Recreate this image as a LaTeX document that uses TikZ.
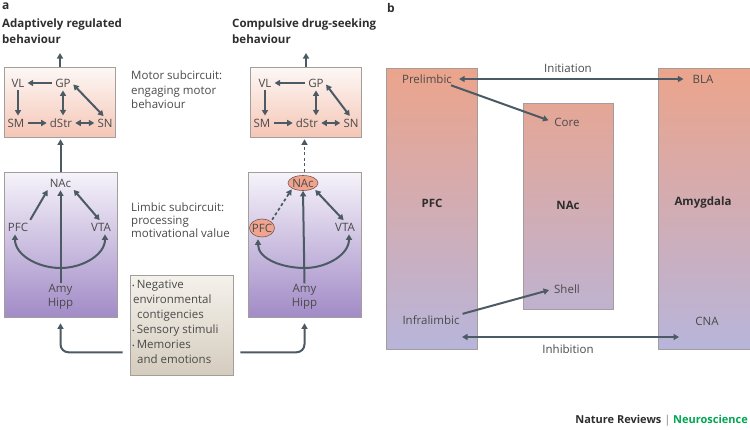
\documentclass[tikz,border=0pt]{standalone}
\usepackage{fontspec}
\setmainfont{Open Sans}
\usepackage{xcolor}
\usetikzlibrary{arrows.meta, shapes.geometric, calc}

\definecolor{arrowgray}{HTML}{4B5A63}
\definecolor{txtgray}{HTML}{4A4A4A}
\definecolor{titlegray}{HTML}{2E2E2E}
\definecolor{boxline}{HTML}{A39D9B}
\definecolor{motortop}{HTML}{FDF8F6}
\definecolor{motorbot}{HTML}{F5C6B6}
\definecolor{limbtop}{HTML}{F6F3FA}
\definecolor{limbbot}{HTML}{A28BC7}
\definecolor{cuetop}{HTML}{F5F2EC}
\definecolor{cuebot}{HTML}{D5CCBE}
\definecolor{bsalmon}{HTML}{ECA48B}
\definecolor{blav}{HTML}{B8B5DB}
\definecolor{hilite}{HTML}{F0A48D}
\definecolor{hiline}{HTML}{7A5650}
\definecolor{nrgreen}{HTML}{00A651}

\begin{document}
\begin{tikzpicture}[x=1pt,y=-1pt,
  lbl/.style={inner sep=1pt, text=txtgray, font=\fontsize{11.5}{14}\selectfont},
  bold/.style={lbl, text=titlegray, font=\bfseries\fontsize{11.5}{14}\selectfont},
  arr/.style={draw=arrowgray, line width=2pt, shorten <=2pt, shorten >=2pt, -{Triangle[length=5.5pt,width=6pt]}},
  darr/.style={arr, {Triangle[length=5.5pt,width=6pt]}-{Triangle[length=5.5pt,width=6pt]}},
  dasharr/.style={arr, line width=1.7pt, dash pattern=on 3pt off 2.5pt},
  motorbox/.style={draw=boxline, line width=0.6pt, top color=motortop, bottom color=motorbot, minimum width=111pt, minimum height=70pt},
  limbbox/.style={draw=boxline, line width=0.6pt, top color=limbtop, bottom color=limbbot, minimum width=113pt, minimum height=145pt},
  hot/.style={lbl, ellipse, draw=hiline, line width=0.6pt, fill=hilite, inner sep=-1.5pt}]
\useasboundingbox (0,0) rectangle (750,429);

\node[bold, anchor=north west, font=\bfseries\fontsize{12}{13}\selectfont] (labA) at (1,2) {a};
\node[bold, anchor=north west, align=left, font=\bfseries\fontsize{11.5}{16}\selectfont] (titleL) at (1,18) {Adaptively regulated\\behaviour};
\node[bold, anchor=north west, align=left, font=\bfseries\fontsize{11.5}{16}\selectfont] (titleR) at (231,18) {Compulsive drug-seeking\\behaviour};

\node[motorbox] (motL) at (60,102) {};
\node[motorbox] (motR) at (306,102) {};
\node[limbbox] (limL) at (60.5,244.5) {};
\node[limbbox] (limR) at (304.5,244.5) {};
\node[draw=boxline, line width=0.6pt, top color=cuetop, bottom color=cuebot, minimum width=103pt, minimum height=100pt] (cues) at (181.5,325) {};

\coordinate (outL) at (60,51);
\coordinate (outR) at (306,51);
\draw[arr, shorten <=0pt] (motL.north) -- (outL);
\draw[arr, shorten <=0pt] (motR.north) -- (outR);
\draw[arr, shorten <=0pt] (limL.north) -- (limL.north |- motL.south);
\draw[dasharr, shorten <=0pt] (limR.north) -- (limR.north |- motR.south);

\node[lbl] (VLL) at (18,83) {VL};
\node[lbl] (GPL) at (63,83) {GP};
\node[lbl] (SML) at (16,123) {SM};
\node[lbl] (dStrL) at (61,123) {dStr};
\node[lbl] (SNL) at (105,123) {SN};
\draw[arr] (GPL) -- (VLL);
\draw[arr] (VLL) -- (VLL |- SML.north);
\draw[arr] (SML) -- (dStrL);
\draw[darr] (GPL) -- (GPL |- dStrL.north);
\draw[darr] (dStrL) -- (SNL);
\draw[darr] (GPL.east) -- (SNL.north);

\node[lbl] (VLR) at (265,83) {VL};
\node[lbl] (GPR) at (316,83) {GP};
\node[lbl] (SMR) at (262,123) {SM};
\node[lbl] (dStrR) at (307,123) {dStr};
\node[lbl] (SNR) at (351,123) {SN};
\draw[arr] (GPR) -- (VLR);
\draw[arr] (VLR) -- (VLR |- SMR.north);
\draw[arr] (SMR) -- (dStrR);
\draw[darr] (GPR) -- (GPR |- dStrR.north);
\draw[darr] (dStrR) -- (SNR);
\draw[darr] (GPR.east) -- (SNR.north);

\node[lbl, anchor=north west, align=left, font=\fontsize{11.5}{14.5}\selectfont] (motTxt) at (130,70) {Motor subcircuit:\\engaging motor\\behaviour};
\node[lbl, anchor=north west, align=left, font=\fontsize{11.5}{13}\selectfont] (limTxt) at (130,202) {Limbic subcircuit:\\processing\\motivational value};

\node[lbl] (NAcL) at (60.5,183) {NAc};
\node[lbl] (PFCL) at (18,227) {PFC};
\node[lbl] (VTAL) at (101,227) {VTA};
\node[lbl, align=center] (AmyL) at (60.5,297) {Amy\\Hipp};
\coordinate (forkL) at (60.5,268);
\draw[arr, shorten <=0pt] (forkL) to[out=180,in=-90] ([xshift=-3pt]PFCL.south);
\draw[arr, shorten <=0pt] (forkL) to[out=0,in=-90] ([xshift=4pt]VTAL.south);
\draw[arr, shorten <=0pt] (AmyL.north) -- (NAcL.south);
\draw[arr] (PFCL.north east) -- (NAcL.south west);
\draw[darr] (NAcL.south east) -- (VTAL.north);

\node[hot, minimum width=30pt, minimum height=15pt] (NAcR) at (303,183) {NAc};
\node[hot, minimum width=25pt, minimum height=18pt] (PFCR) at (262,228) {PFC};
\node[lbl] (VTAR) at (345,227) {VTA};
\node[lbl, align=center] (AmyR) at (304.5,297) {Amy\\Hipp};
\coordinate (forkR) at (304.5,268);
\draw[arr, shorten <=0pt] (forkR) to[out=180,in=-90] ([xshift=-4pt]PFCR.south);
\draw[arr, shorten <=0pt] (forkR) to[out=0,in=-90] ([xshift=4pt]VTAR.south);
\draw[arr, shorten <=0pt, shorten >=0pt] (AmyR.north) -- (NAcR.south);
\draw[dasharr, shorten >=1pt] (PFCR.north east) -- (NAcR.south west);
\draw[darr] (NAcR.south east) -- (VTAR.north);

\node[lbl, anchor=north west, align=left, text=txtgray, font=\fontsize{11.5}{15}\selectfont] (cueTxt) at (131,279)
  {{\scriptsize\textbullet}\,Negative\\
   \hspace*{1pt}environmental\\
   \hspace*{5pt}contigencies\\
   {\scriptsize\textbullet}\,Sensory stimuli\\
   {\scriptsize\textbullet}\,Memories\\
   \hspace*{5pt}and emotions};
\draw[arr, rounded corners=8pt, shorten >=6pt] ($(cues.south west)+(-5,-23)$) -| (limL.south);
\draw[arr, rounded corners=8pt, shorten >=6pt] ($(cues.south east)+(5,-23)$) -| (limR.south);

\node[bold, anchor=north west, font=\bfseries\fontsize{12}{13}\selectfont] (labB) at (386,2) {b};
\node[draw=boxline, line width=0.6pt, top color=bsalmon, bottom color=blav, minimum width=91pt, minimum height=281pt] (pfcB) at (431.5,208.5) {};
\node[draw=boxline, line width=0.6pt, top color=bsalmon!87!blav, bottom color=bsalmon!14!blav, minimum width=90pt, minimum height=206pt] (nacB) at (568,206) {};
\node[draw=boxline, line width=0.6pt, top color=bsalmon, bottom color=blav, minimum width=92pt, minimum height=281pt] (amyB) at (704.5,208.5) {};

\node[lbl] (preB) at (427,79) {Prelimbic};
\node[lbl] (blaB) at (703,79) {BLA};
\node[lbl] (initB) at (568,68) {Initiation};
\node[lbl] (coreB) at (567,122) {Core};
\node[bold] (pfcT) at (432,203) {PFC};
\node[bold] (nacT) at (568,205) {NAc};
\node[bold] (amyT) at (703,203) {Amygdala};
\node[lbl] (shellB) at (567,289) {Shell};
\node[lbl] (infB) at (431,320) {Infralimbic};
\node[lbl] (cnaB) at (707,321) {CNA};
\node[lbl] (inhB) at (568,349) {Inhibition};
\coordinate (inhL) at (462,337);
\coordinate (inhR) at (679,337);

\draw[darr, shorten <=6pt, shorten >=8pt] (preB.east) -- (blaB.west);
\draw[arr, shorten <=2pt, shorten >=5pt] ([xshift=-4pt]preB.south east) -- (coreB.west);
\draw[arr, shorten >=4pt] (infB.north east) -- (shellB.west);
\draw[darr, shorten <=0pt, shorten >=0pt] (inhL) -- (inhR);

\node[anchor=east, inner sep=1pt, text=titlegray, font=\bfseries\fontsize{11}{12}\selectfont] (credit) at (749,421)
  {Nature Reviews {\mdseries\color{gray}|} \textcolor{nrgreen}{Neuroscience}};
\end{tikzpicture}
\end{document}
